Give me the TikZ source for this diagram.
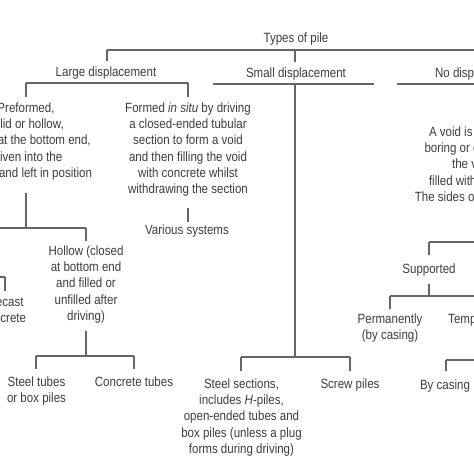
\documentclass[tikz,border=0pt]{standalone}
\usepackage{fontspec}
\setmainfont{Liberation Sans}[FakeStretch=0.86]
\definecolor{txt}{gray}{0.24}
\definecolor{ln}{gray}{0.4}
\begin{document}
\begin{tikzpicture}[x=1pt,y=-1pt,
  lbl/.style={inner sep=0pt, align=center, anchor=north, text=txt,
    font=\fontsize{13.4}{16.3}\selectfont},
  conn/.style={draw=ln, line width=1.1pt}]
\useasboundingbox (0,0) rectangle (474,474);
\fill[white] (0,0) rectangle (474,474);
\clip (0,0) rectangle (474,474);

% nodes
\node[lbl] (types) at (296,32.2) {Types of pile};
\node[lbl] (large) at (106,66.2) {Large displacement};
\node[lbl] (small) at (296,67.2) {Small displacement};
\node[lbl] (nodisp) at (478,67.2) {No displacement};
\node[lbl] (preformed) at (26,102.2) {Preformed,\\solid or hollow,\\closed at the bottom end,\\driven into the\\ground and left in position};
\node[lbl] (insitu) at (188,102.2) {Formed \textit{in situ} by driving\\a closed-ended tubular\\section to form a void\\and then filling the void\\with concrete whilst\\withdrawing the section};
\node[lbl] (various) at (187,224.2) {Various systems};
\node[lbl] (void) at (478,126.2) {A void is formed by\\boring or excavation,\\the void is\\filled with concrete.\\The sides of the void are};
\node[lbl] (hollow) at (86,245.2) {Hollow (closed\\at bottom end\\and filled or\\unfilled after\\driving)};
\node[lbl] (precast) at (4,297.2) {Precast\\concrete};
\node[lbl] (steeltubes) at (36.5,376.2) {Steel tubes\\or box piles};
\node[lbl] (concretetubes) at (134,376.2) {Concrete tubes};
\node[lbl] (steelsections) at (241.5,378.2) {Steel sections,\\includes \textit{H}-piles,\\open-ended tubes and\\box piles (unless a plug\\forms during driving)};
\node[lbl] (screw) at (350,378.2) {Screw piles};
\node[lbl] (supported) at (429,263.2) {Supported};
\node[lbl] (permanently) at (390,313.2) {Permanently\\(by casing)};
\node[lbl] (temporarily) at (478,313.2) {Temporarily};
\node[lbl] (bycasing) at (445,379.2) {By casing};

% junction coordinates
\coordinate (tA) at (107,50);
\coordinate (tB) at (295,50);
\coordinate (tC) at (478,50);
\coordinate (lA) at (26,83);
\coordinate (lB) at (188,83);
\coordinate (sA) at (213,84);
\coordinate (sB) at (295,84);
\coordinate (sC) at (374,84);
\coordinate (sJ) at (295,357);
\coordinate (sE) at (241,357);
\coordinate (sF) at (350,357);
\coordinate (nA) at (397,84);
\coordinate (nB) at (560,84);
\coordinate (vA) at (429,242);
\coordinate (vB) at (527,242);
\coordinate (spJ) at (429,296);
\coordinate (spA) at (390,296);
\coordinate (spB) at (478,296);
\coordinate (tpJ) at (478,360);
\coordinate (tpA) at (446,360);
\coordinate (tpB) at (510,360);
\coordinate (pJ) at (26,228);
\coordinate (pA) at (-60,228);
\coordinate (pB) at (86,228);
\coordinate (cA) at (-40,277);
\coordinate (cB) at (5,277);
\coordinate (hJ) at (86,356);
\coordinate (hA) at (36,356);
\coordinate (hB) at (134,356);

% connectors
\draw[conn] (tA) -- (tC);
\draw[conn, shorten >=5.2pt] (tA) -- (tA |- large.north);
\draw[conn, shorten >=5.2pt] (tB) -- (tB |- small.north);
\draw[conn, shorten >=5.2pt] (tC) -- (tC |- nodisp.north);

\draw[conn] (lA) -- (lB);
\draw[conn, shorten >=5.2pt] (lA) -- (lA |- preformed.north);
\draw[conn, shorten >=5.2pt] (lB) -- (lB |- insitu.north);
\draw[conn, shorten <=11.7pt, shorten >=2.2pt] (lB |- insitu.south) -- (lB |- various.north);

\draw[conn] (sA) -- (sC);
\draw[conn] (sB) -- (sJ);
\draw[conn] (sE) -- (sF);
\draw[conn, shorten >=7.2pt] (sE) -- (sE |- steelsections.north);
\draw[conn, shorten >=7.2pt] (sF) -- (sF |- screw.north);

\draw[conn] (nA) -- (nB);
\draw[conn] (vA) -- (vB);
\draw[conn, shorten >=8.2pt] (vA) -- (vA |- supported.north);
\draw[conn, shorten <=8.2pt] (spJ |- supported.south) -- (spJ);
\draw[conn] (spA) -- (spB);
\draw[conn, shorten >=4.2pt] (spA) -- (spA |- permanently.north);
\draw[conn, shorten >=4.2pt] (spB) -- (spB |- temporarily.north);
\draw[conn, shorten <=8pt] (temporarily.south) -- (tpJ);
\draw[conn] (tpA) -- (tpB);
\draw[conn, shorten >=8.2pt] (tpA) -- (tpA |- bycasing.north);

\draw[conn, shorten <=13.2pt] (pJ |- preformed.south) -- (pJ);
\draw[conn] (pA) -- (pB);
\draw[conn, shorten >=4.2pt] (pB) -- (pB |- hollow.north);
\draw[conn] (cA) -- (cB);
\draw[conn, shorten >=6.2pt] (cB) -- (cB |- precast.north);
\draw[conn, shorten <=8pt] (hJ |- hollow.south) -- (hJ);
\draw[conn] (hA) -- (hB);
\draw[conn, shorten >=7.2pt] (hA) -- (hA |- steeltubes.north);
\draw[conn, shorten >=7.2pt] (hB) -- (hB |- concretetubes.north);
\end{tikzpicture}
\end{document}
